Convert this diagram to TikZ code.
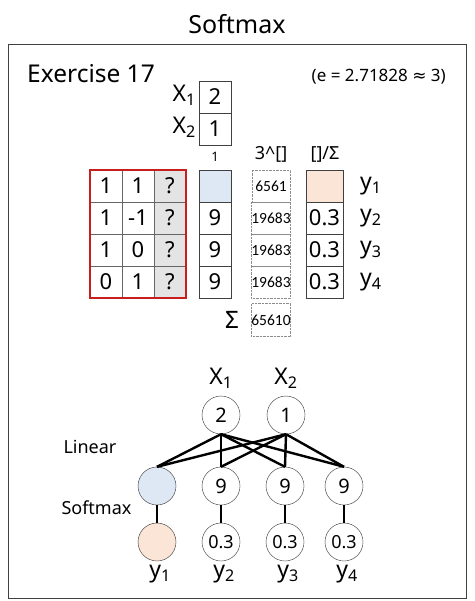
\documentclass[tikz,border=0pt]{standalone}
\usepackage{fontspec}
\setmainfont{Noto Sans}
\newfontfamily\numfont{Carlito}
\newfontfamily\symfont{DejaVu Sans}
\usetikzlibrary{positioning}

\definecolor{cellblue}{RGB}{221,232,244}
\definecolor{cellorange}{RGB}{251,229,214}
\definecolor{cellgray}{RGB}{228,228,228}
\definecolor{matred}{RGB}{200,30,30}

\tikzset{
  cellbox/.style={draw=black!75, minimum size=32pt, inner sep=0pt, font=\fontsize{22}{22}\selectfont},
  dotbox/.style={draw=black!45, densely dotted, minimum width=38pt, minimum height=32pt, inner sep=0pt, font=\numfont\fontsize{15.5}{16}\selectfont},
  neuron/.style={circle, draw=black!80, minimum size=38pt, inner sep=0pt, font=\fontsize{20}{20}\selectfont},
  lbl/.style={font=\fontsize{23}{23}\selectfont, inner sep=0pt},
  wire/.style={line width=2.4pt, black}
}

\begin{document}
\begin{tikzpicture}[x=1pt, y=-1pt]
  \useasboundingbox (0,0) rectangle (474,601);
  \fill[white] (0,0) rectangle (474,601);

  % title and frame
  \node[font=\fontsize{25}{25}\selectfont] (title) at (237,24) {Softmax};
  \draw[black!75, line width=1pt] (8,45) rectangle (466,598);
  \node[lbl, anchor=west, font=\fontsize{24.5}{25}\selectfont] (exer) at (27,74) {Exercise 17};
  \node[anchor=east, font=\fontsize{17}{17}\selectfont, inner sep=0pt] (euler) at (446,77) {(e = 2.71828 {\symfont ≈} 3)};

  % input vector
  \node[cellbox] (x1) at (215,97) {2};
  \node[cellbox] (x2) at (215,129) {1};
  \node[lbl, anchor=east] (x1lab) at (196,95) {X\textsubscript{1}};
  \node[lbl, anchor=east] (x2lab) at (196,127) {X\textsubscript{2}};

  % weight matrix, last column unknown
  \foreach \a/\b [count=\i] in {1/1, 1/-1, 1/0, 0/1} {
    \node[cellbox, draw=black!60] (w\i a) at (106,154+32*\i) {\a};
    \node[cellbox, draw=black!60] (w\i b) at (138,154+32*\i) {\b};
    \node[cellbox, draw=black!60, fill=cellgray] (w\i c) at (170,154+32*\i) {?};
  }
  \draw[matred, line width=1.6pt] (w1a.north west) rectangle (w4c.south east);

  % column headers
  \node[font=\fontsize{13}{13}\selectfont] (hone) at (215,157) {1};
  \node[font=\fontsize{18}{18}\selectfont] (hpow) at (271,154) {3\^{}[]};
  \node[font=\fontsize{18}{18}\selectfont] (hdiv) at (325,154) {[]/Σ};

  % linear output, exponentials, softmax output
  \node[cellbox, fill=cellblue] (z1) at (215,186) {};
  \node[dotbox] (e1) at (271,186) {6561};
  \node[cellbox, minimum width=37pt, fill=cellorange] (p1) at (324.5,186) {};
  \node[lbl, anchor=west] (y1lab) at (360,186) {y\textsubscript{1}};
  \foreach \i in {2,3,4} {
    \node[cellbox] (z\i) at (215,154+32*\i) {9};
    \node[dotbox] (e\i) at (271,154+32*\i) {19683};
    \node[cellbox, minimum width=37pt] (p\i) at (324.5,154+32*\i) {0.3};
    \node[lbl, anchor=west] (y\i lab) at (360,154+32*\i) {y\textsubscript{\i}};
  }

  % sum
  \node[dotbox, minimum height=33pt] (esum) at (271,320) {65610};
  \node[font=\fontsize{24}{24}\selectfont] (sigma) at (232,320) {Σ};

  % network
  \node[neuron] (in1) at (221,415) {2};
  \node[neuron] (in2) at (286,415) {1};
  \node[lbl] (in1lab) at (221,378) {X\textsubscript{1}};
  \node[lbl] (in2lab) at (286,378) {X\textsubscript{2}};

  \node[neuron, fill=cellblue] (h1) at (157,486) {};
  \node[neuron] (h2) at (221,486) {9};
  \node[neuron] (h3) at (285,486) {9};
  \node[neuron] (h4) at (344,486) {9};

  \node[neuron, fill=cellorange] (o1) at (157,542) {};
  \foreach \i in {2,3,4} {
    \node[neuron, font=\fontsize{18}{18}\selectfont] (o\i) at (h\i |- o1) {0.3};
  }

  \foreach \i in {1,...,4} {
    \draw[wire] (in1.south) -- (h\i.north);
    \draw[wire] (in2.south) -- (h\i.north);
    \draw[line width=1.8pt] (h\i.south) -- (o\i.north);
    \node[lbl] (ylab\i) at ([xshift=3pt]o\i.south |- 0,574) {y\textsubscript{\i}};
  }

  \node[font=\fontsize{18}{18}\selectfont, anchor=west] (linear) at (60,447) {Linear};
  \node[font=\fontsize{18}{18}\selectfont, anchor=west] (softm) at (58,508) {Softmax};
\end{tikzpicture}
\end{document}
